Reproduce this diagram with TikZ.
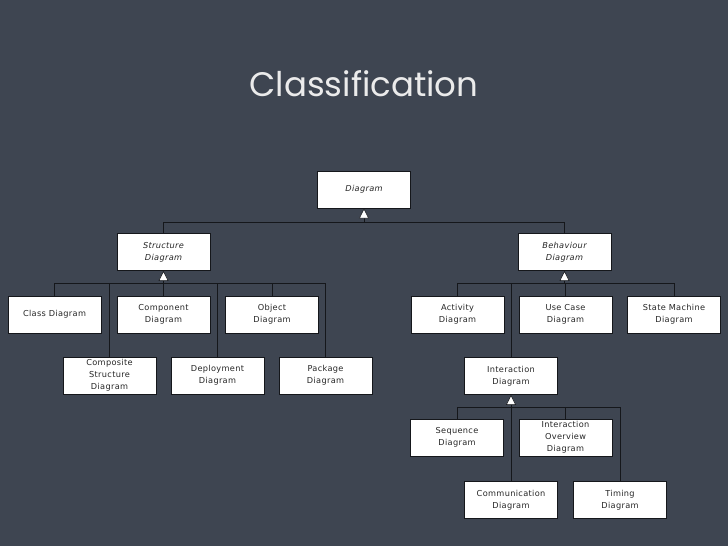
\documentclass[tikz,border=0pt]{standalone}
\usepackage{fontspec}
\setsansfont{DejaVu Sans}[LetterSpace=4]
\newfontfamily\titlefont{Poppins}
\usetikzlibrary{arrows.meta}
\pgfdeclarelayer{bottom}
\pgfdeclarelayer{wires}
\pgfsetlayers{bottom,wires,main}
\definecolor{bg}{HTML}{3E4551}
\definecolor{ln}{HTML}{15171B}
\tikzset{
 box/.style={draw=ln,line width=0.8pt,fill=white,minimum width=93pt,minimum height=37pt,inner sep=1pt,align=center,font=\sffamily\fontsize{8.2}{12}\selectfont,text=black!85},
 abs/.style={box,font=\sffamily\itshape\fontsize{8.2}{12}\selectfont},
 wire/.style={draw=ln,line width=1pt},
 gen/.style={wire,-{Triangle[open,fill=white,length=10pt,width=10pt,line width=0.6pt]}}
}
\begin{document}
\begin{tikzpicture}[x=1pt,y=-1pt]
\begin{pgfonlayer}{bottom}
\fill[bg] (0,0) rectangle (728,546);
\end{pgfonlayer}
\node[font=\titlefont\fontsize{34}{40}\selectfont,text=white!92!black] (title) at (364,84) {Classification};
\node[abs] (d) at (364,189.5) {Diagram};
\node[abs] (s) at (163.5,252) {Structure\\Diagram};
\node[abs] (b) at (564.5,252) {Behaviour\\Diagram};
\node[box] (cl) at (54.5,314.5) {Class Diagram};
\node[box] (cp) at (163.5,314.5) {Component\\Diagram};
\node[box] (ob) at (272,314.5) {Object\\Diagram};
\node[box] (ac) at (457.5,314.5) {Activity\\Diagram};
\node[box] (uc) at (565.5,314.5) {Use Case\\Diagram};
\node[box] (sm) at (674,314.5) {State Machine\\Diagram};
\node[box] (cs) at (109.5,375.5) {Composite\\Structure\\Diagram};
\node[box] (de) at (217.5,375.5) {Deployment\\Diagram};
\node[box] (pa) at (325.5,375.5) {Package\\Diagram};
\node[box] (in) at (511,376) {Interaction\\Diagram};
\node[box] (sq) at (457,437.5) {Sequence\\Diagram};
\node[box] (io) at (565.5,437.5) {Interaction\\Overview\\Diagram};
\node[box] (co) at (511,500) {Communication\\Diagram};
\node[box] (ti) at (620,500) {Timing\\Diagram};
\coordinate (j1) at (364,222);
\coordinate (j2) at (163.5,283);
\coordinate (j3) at (564.5,283);
\coordinate (j4) at (511,407);
\begin{pgfonlayer}{wires}
\draw[wire] (s.north) |- (j1);
\draw[wire] (b.north) |- (j1);
\foreach \c in {cl,cs,cp,de,ob,pa} \draw[wire] (\c.north) |- (j2);
\foreach \c in {ac,in,uc,sm} \draw[wire] (\c.north) |- (j3);
\foreach \c in {sq,co,io,ti} \draw[wire] (\c.north) |- (j4);
\end{pgfonlayer}
\draw[gen] (j1) -- (d.south);
\draw[gen] (j2) -- (s.south);
\draw[gen] (j3) -- (b.south);
\draw[gen] (j4) -- (in.south);
\end{tikzpicture}
\end{document}
